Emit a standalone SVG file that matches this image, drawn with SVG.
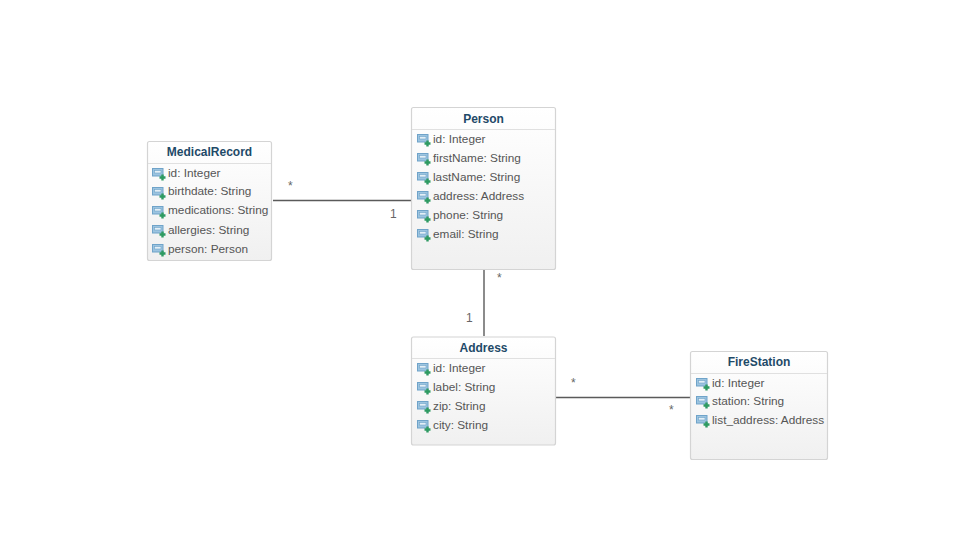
<svg xmlns="http://www.w3.org/2000/svg" xmlns:xlink="http://www.w3.org/1999/xlink" width="960" height="540" viewBox="0 0 960 540">
<style>
text{font-family:"Liberation Sans",Arial,sans-serif;font-size:11.8px;fill:#555}
.t{font-weight:bold;font-size:12px;fill:#1f4a68;text-anchor:middle}
.box{fill:url(#g);stroke:#d4d4d4;stroke-width:1.2}
.sep{stroke:#e0e0e0;stroke-width:1}
.c{stroke:#5a5a5a;stroke-width:1.4;fill:none}
.m{font-size:12px;fill:#666}
</style>
<defs>
<linearGradient id="g" x1="0" y1="0" x2="0" y2="1"><stop offset="0" stop-color="#fff"/><stop offset="1" stop-color="#f0f0f0"/></linearGradient>
<g id="i">
<rect x="0.500" y="0.500" width="10.500" height="7.500" fill="#9cc4e0" stroke="#6fa3c9"/>
<rect x="2.500" y="2.500" width="6.500" height="2.500" fill="#e4eff7" stroke="#6fa3c9" stroke-width="0.600"/>
<path d="M9.300 6.500h2.400v1.800h1.800v2.400h-1.800v1.800H9.300v-1.800H7.500V8.300h1.800z" fill="#2e9a62"/>
</g>
</defs>
<g id="connectors">
<path class="c" d="M273 200.500H411"/>
<path class="c" d="M484 270V336"/>
<path class="c" d="M556 397.500H690"/>
</g>
<g id="labels">
<text class="m" x="288" y="190">*</text>
<text class="m" x="390" y="218">1</text>
<text class="m" x="497" y="282">*</text>
<text class="m" x="466" y="322">1</text>
<text class="m" x="571" y="387">*</text>
<text class="m" x="669" y="414">*</text>
</g>
<g id="MedicalRecord">
<rect class="box" x="147.500" y="141.500" width="124" height="119" rx="2"/>
<path class="sep" d="M148 163.500H271"/>
<text class="t" x="209.500" y="156">MedicalRecord</text>
<use xlink:href="#i" href="#i" x="152" y="168"/><text x="168" y="177">id: Integer</text>
<use xlink:href="#i" href="#i" x="152" y="187"/><text x="168" y="195">birthdate: String</text>
<use xlink:href="#i" href="#i" x="152" y="206"/><text x="168" y="214">medications: String</text>
<use xlink:href="#i" href="#i" x="152" y="225"/><text x="168" y="234">allergies: String</text>
<use xlink:href="#i" href="#i" x="152" y="244"/><text x="168" y="253">person: Person</text>
</g>
<g id="Person">
<rect class="box" x="411.500" y="107.500" width="144" height="162" rx="2"/>
<path class="sep" d="M412 129.500H555"/>
<text class="t" x="483.500" y="123">Person</text>
<use xlink:href="#i" href="#i" x="417" y="134"/><text x="433" y="143">id: Integer</text>
<use xlink:href="#i" href="#i" x="417" y="153"/><text x="433" y="162">firstName: String</text>
<use xlink:href="#i" href="#i" x="417" y="172"/><text x="433" y="181">lastName: String</text>
<use xlink:href="#i" href="#i" x="417" y="191"/><text x="433" y="200">address: Address</text>
<use xlink:href="#i" href="#i" x="417" y="210"/><text x="433" y="219">phone: String</text>
<use xlink:href="#i" href="#i" x="417" y="229"/><text x="433" y="238">email: String</text>
</g>
<g id="Address">
<rect class="box" x="411.500" y="337" width="144" height="108" rx="2"/>
<path class="sep" d="M412 358.500H555"/>
<text class="t" x="483.500" y="352">Address</text>
<use xlink:href="#i" href="#i" x="417" y="363"/><text x="433" y="372">id: Integer</text>
<use xlink:href="#i" href="#i" x="417" y="382"/><text x="433" y="391">label: String</text>
<use xlink:href="#i" href="#i" x="417" y="401"/><text x="433" y="410">zip: String</text>
<use xlink:href="#i" href="#i" x="417" y="420"/><text x="433" y="429">city: String</text>
</g>
<g id="FireStation">
<rect class="box" x="690.500" y="351.500" width="137" height="108" rx="2"/>
<path class="sep" d="M691 373.500H827"/>
<text class="t" x="759" y="366">FireStation</text>
<use xlink:href="#i" href="#i" x="696" y="378"/><text x="712" y="387">id: Integer</text>
<use xlink:href="#i" href="#i" x="696" y="396"/><text x="712" y="405">station: String</text>
<use xlink:href="#i" href="#i" x="696" y="415"/><text x="712" y="424">list_address: Address</text>
</g>
</svg>
